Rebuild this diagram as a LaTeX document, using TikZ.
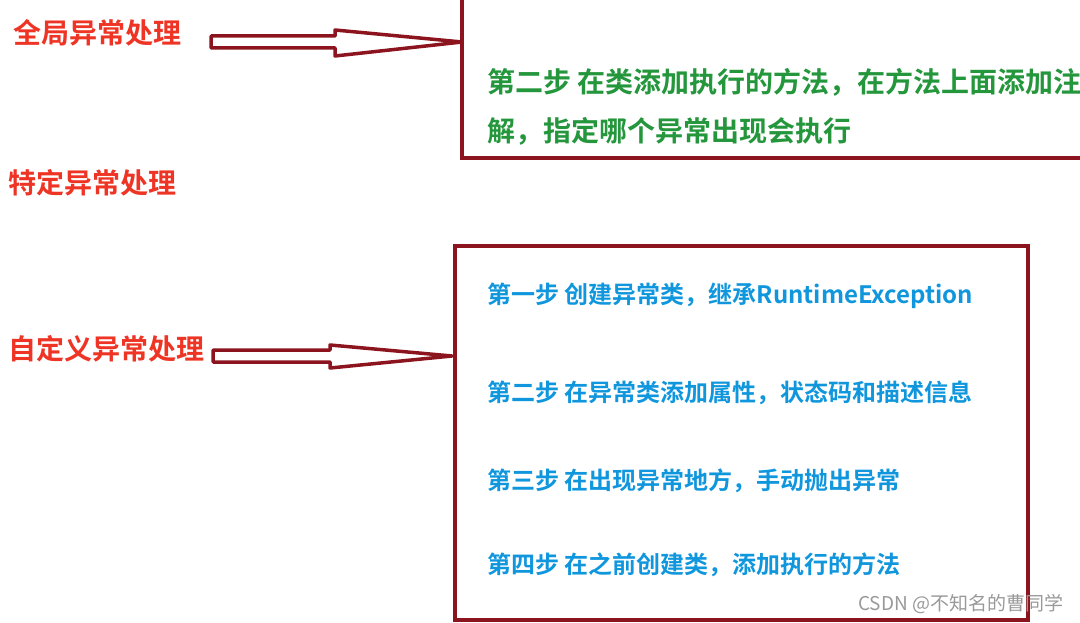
\documentclass[tikz,border=0pt]{standalone}
\usepackage{fontspec}
\newfontfamily\cjk{Noto Sans CJK SC}[BoldFont={Noto Sans CJK SC Bold}]
\definecolor{boxred}{RGB}{140,20,30}
\definecolor{titlered}{RGB}{238,52,36}
\definecolor{stepgreen}{RGB}{36,150,60}
\definecolor{stepblue}{RGB}{16,150,220}
\tikzset{
  title/.style={anchor=west,text=titlered,font=\cjk\bfseries\fontsize{28}{32}\selectfont,inner sep=0pt},
  greenstep/.style={anchor=west,text=stepgreen,font=\cjk\bfseries\fontsize{28}{32}\selectfont,inner sep=0pt},
  bluestep/.style={anchor=west,text=stepblue,font=\cjk\bfseries\fontsize{24}{28}\selectfont,inner sep=0pt},
  frame/.style={draw=boxred,line width=3.5pt},
  fatarrow/.style={draw=boxred,line width=3.5pt,line join=round}
}
\begin{document}
\begin{tikzpicture}[x=1pt,y=-1pt]
        \useasboundingbox (0,0) rectangle (1080,623);
        \clip (0,0) rectangle (1080,623);
        % titles on the left
        \node[title] (global) at (13,33) {全局异常处理};
        \node[title] (special) at (8,183) {特定异常处理};
        \node[title] (custom) at (8,349) {自定义异常处理};
        % top box, cut by the edge
        \draw[frame] (462,-5) -- (462,158) -- (1085,158);
        \node[greenstep] (g1) at (487,82) {第二步\ 在类添加执行的方法，在方法上面添加注};
        \node[greenstep] (g2) at (487,131) {解，指定哪个异常出现会执行};
        % bottom box
        \draw[frame] (455,246) rectangle (1028,620);
        \node[bluestep] (b1) at (487,296) {第一步\ 创建异常类，继承RuntimeException};
        \node[bluestep] (b2) at (487,393) {第二步\ 在异常类添加属性，状态码和描述信息};
        \node[bluestep] (b3) at (487,481) {第三步\ 在出现异常地方，手动抛出异常};
        \node[bluestep] (b4) at (487,565) {第四步\ 在之前创建类，添加执行的方法};
        % fat arrows
        \draw[fatarrow] (211,36) -- (335,36) -- (335,30) -- (462,42) -- (335,56) -- (335,48) -- (211,48) -- cycle;
        \draw[fatarrow] (213,350) -- (330,350) -- (330,345) -- (452,356) -- (330,368) -- (330,362) -- (213,362) -- cycle;
        % watermark
        \node[anchor=west,text=gray!80,font=\cjk\fontsize{19}{22}\selectfont,inner sep=0pt] (mark) at (858,604) {CSDN @不知名的曹同学};
\end{tikzpicture}
\end{document}
